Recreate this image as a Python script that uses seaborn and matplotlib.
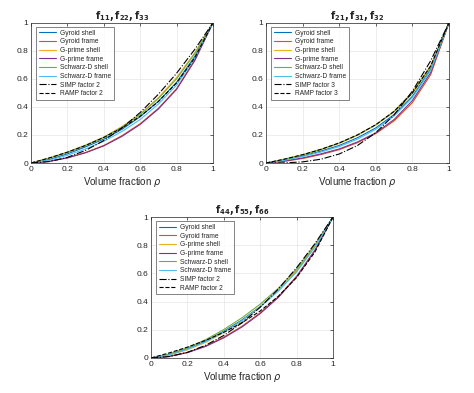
import matplotlib
matplotlib.use("Agg")
import matplotlib.pyplot as plt
import seaborn as sns

sns.set_style("white")
plt.rcParams['font.family'] = ['Liberation Sans', 'DejaVu Sans']
plt.rcParams['mathtext.fontset'] = 'dejavusans'

rho = [0.0, 0.1, 0.2, 0.3, 0.4, 0.5, 0.6, 0.7, 0.8, 0.9, 1.0]

series_names = ["Gyroid shell", "Gyroid frame", "G-prime shell", "G-prime frame",
                "Schwarz-D shell", "Schwarz-D frame"]
colors = ["#0072BD", "#D95319", "#EDB120", "#7E2F8E", "#77AC30", "#4DBEEE"]

# Panel 1: f11, f22, f33
p1_gyroid_shell = [0, .025, .065, .115, .17, .24, .33, .44, .575, .76, 1]
p1_gyroid_frame = [0, .012, .038, .075, .125, .195, .28, .39, .53, .735, 1]
p1_gprime_shell = [0, .035, .078, .128, .185, .26, .35, .465, .61, .785, 1]
p1_gprime_frame = [0, .012, .036, .073, .122, .19, .275, .385, .525, .73, 1]
p1_schwarz_shell = [0, .034, .076, .125, .183, .255, .345, .46, .60, .78, 1]
p1_schwarz_frame = [0, .02, .055, .10, .155, .225, .31, .42, .555, .75, 1]
p1_simp = [0, .01, .04, .09, .16, .25, .36, .49, .64, .81, 1]
p1_ramp = [0, .036, .077, .125, .182, .25, .333, .438, .571, .75, 1]

# Panel 2: f21, f31, f32
p2_gyroid_shell = [0, .022, .05, .085, .125, .18, .25, .345, .475, .67, 1]
p2_gyroid_frame = [0, .012, .032, .06, .095, .145, .21, .30, .43, .63, 1]
p2_gprime_shell = [0, .026, .058, .095, .14, .198, .272, .37, .505, .695, 1]
p2_gprime_frame = [0, .014, .036, .065, .10, .15, .215, .31, .445, .645, 1]
p2_schwarz_shell = [0, .027, .059, .097, .142, .2, .272, .365, .495, .685, 1]
p2_schwarz_frame = [0, .02, .046, .078, .117, .17, .24, .335, .465, .66, 1]
p2_simp = [0, .001, .008, .027, .064, .125, .216, .343, .512, .729, 1]
p2_ramp = [0, .027, .059, .097, .143, .2, .273, .368, .5, .692, 1]

# Panel 3: f44, f55, f66
p3_gyroid_shell = [0, .025, .065, .12, .19, .27, .365, .48, .615, .79, 1]
p3_gyroid_frame = [0, .012, .04, .085, .148, .225, .32, .435, .58, .765, 1]
p3_gprime_shell = [0, .02, .058, .11, .18, .262, .362, .48, .62, .795, 1]
p3_gprime_frame = [0, .011, .038, .082, .143, .22, .315, .43, .575, .76, 1]
p3_schwarz_shell = [0, .028, .072, .13, .202, .285, .382, .495, .63, .80, 1]
p3_schwarz_frame = [0, .022, .062, .115, .185, .265, .362, .475, .61, .785, 1]
p3_simp = [0, .01, .04, .09, .16, .25, .36, .49, .64, .81, 1]
p3_ramp = [0, .036, .077, .125, .182, .25, .333, .438, .571, .75, 1]

panels = [
    dict(title=r"$\mathbf{f_{11}, f_{22}, f_{33}}$",
         data=[p1_gyroid_shell, p1_gyroid_frame, p1_gprime_shell, p1_gprime_frame,
               p1_schwarz_shell, p1_schwarz_frame],
         simp=p1_simp, ramp=p1_ramp, simp_label="SIMP factor 2", ramp_label="RAMP factor 2"),
    dict(title=r"$\mathbf{f_{21}, f_{31}, f_{32}}$",
         data=[p2_gyroid_shell, p2_gyroid_frame, p2_gprime_shell, p2_gprime_frame,
               p2_schwarz_shell, p2_schwarz_frame],
         simp=p2_simp, ramp=p2_ramp, simp_label="SIMP factor 3", ramp_label="RAMP factor 3"),
    dict(title=r"$\mathbf{f_{44}, f_{55}, f_{66}}$",
         data=[p3_gyroid_shell, p3_gyroid_frame, p3_gprime_shell, p3_gprime_frame,
               p3_schwarz_shell, p3_schwarz_frame],
         simp=p3_simp, ramp=p3_ramp, simp_label="SIMP factor 2", ramp_label="RAMP factor 2"),
]

W, H = 474, 393
fig = plt.figure(figsize=(W / 100, H / 100), dpi=100)
boxes = [(31, 22.7, 213, 163), (266, 22.7, 449, 163), (151, 217, 333, 358)]
ticks = [0, 0.2, 0.4, 0.6, 0.8, 1.0]
ticklabels = ["0", "0.2", "0.4", "0.6", "0.8", "1"]

for (l, t, r, b), p in zip(boxes, panels):
    ax = fig.add_axes([l / W, 1 - b / H, (r - l) / W, (b - t) / H])
    for name, col, vals in zip(series_names, colors, p["data"]):
        sns.lineplot(x=rho, y=vals, ax=ax, color=col, lw=0.8, label=name)
    sns.lineplot(x=rho, y=p["simp"], ax=ax, color="black", lw=0.8,
                 linestyle="-.", label=p["simp_label"])
    sns.lineplot(x=rho, y=p["ramp"], ax=ax, color="black", lw=0.8,
                 linestyle="--", label=p["ramp_label"])
    ax.set_xlim(0, 1)
    ax.set_ylim(0, 1)
    ax.set_xticks(ticks)
    ax.set_xticklabels(ticklabels)
    ax.set_yticks(ticks)
    ax.set_yticklabels(ticklabels)
    ax.tick_params(labelsize=6, length=2, width=0.5, direction="in",
                   pad=2, colors="#262626", top=True, right=True)
    ax.grid(True, color="#e6e6e6", lw=0.5)
    for s in ax.spines.values():
        s.set_color("#262626")
        s.set_linewidth(0.5)
    ax.set_title(p["title"], fontsize=7, pad=3)
    ax.set_xlabel(r"Volume fraction $\rho$", fontsize=7, labelpad=1.5, color="#262626")
    ax.set_ylabel("")
    leg = ax.legend(loc="upper left", fontsize=4.8, frameon=True, fancybox=False,
                    handlelength=2.6, handletextpad=0.5, borderpad=0.4,
                    labelspacing=0.25, bbox_to_anchor=(0.03, 0.97), borderaxespad=0)
    leg.get_frame().set_edgecolor("#262626")
    leg.get_frame().set_linewidth(0.5)

fig.savefig("out.png", dpi=100)
